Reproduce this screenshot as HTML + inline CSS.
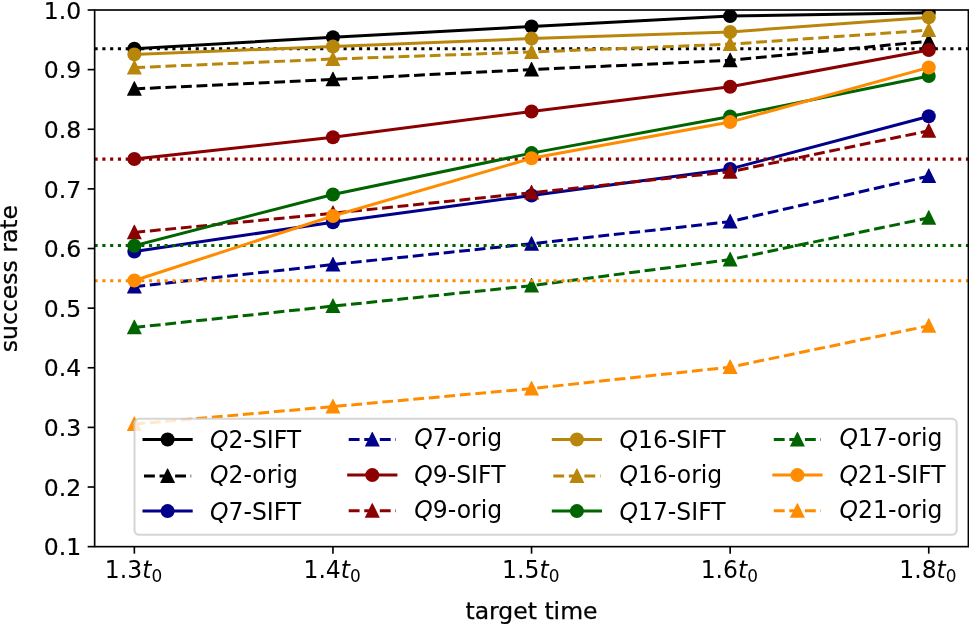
<!DOCTYPE html>
<html lang="en"><head><meta charset="utf-8"><title>success rate vs target time</title>
<style>
html,body{margin:0;padding:0;background:#fff;}
body{width:969px;height:624px;overflow:hidden;}
svg{display:block;}
text{font-family:"DejaVu Sans", "Liberation Sans", sans-serif;font-size:23.5px;fill:#000;}
.it{font-style:italic;}
.sub{font-size:16.92px;}
</style></head><body>
<svg width="969" height="624" viewBox="0 0 969 624">
<defs><clipPath id="ax"><rect x="94.65" y="10.0" width="873.75" height="536.65"/></clipPath></defs>
<rect width="969" height="624" fill="#fff"/>

<g clip-path="url(#ax)" fill="none">
<polyline points="134.35,48.76 332.95,37.25 531.55,26.46 730.15,16.08 928.75,12.74" stroke="#000000" stroke-width="3.0" stroke-linecap="square" stroke-linejoin="round"/>
<circle cx="134.35" cy="48.76" r="7.0" fill="#000000"/>
<circle cx="332.95" cy="37.25" r="7.0" fill="#000000"/>
<circle cx="531.55" cy="26.46" r="7.0" fill="#000000"/>
<circle cx="730.15" cy="16.08" r="7.0" fill="#000000"/>
<circle cx="928.75" cy="12.74" r="7.0" fill="#000000"/>
<polyline points="134.35,88.89 332.95,79.35 531.55,69.63 730.15,60.27 928.75,41.19" stroke="#000000" stroke-width="3.0" stroke-dasharray="10.861 4.697" stroke-linejoin="round"/>
<polygon points="134.00,81.29 134.70,81.29 141.85,95.79 126.85,95.79" fill="#000000"/>
<polygon points="332.60,71.75 333.30,71.75 340.45,86.25 325.45,86.25" fill="#000000"/>
<polygon points="531.20,62.03 531.90,62.03 539.05,76.53 524.05,76.53" fill="#000000"/>
<polygon points="729.80,52.67 730.50,52.67 737.65,67.17 722.65,67.17" fill="#000000"/>
<polygon points="928.40,33.59 929.10,33.59 936.25,48.09 921.25,48.09" fill="#000000"/>
<line x1="94.65" y1="48.76" x2="968.4" y2="48.76" stroke="#000000" stroke-width="3.15" stroke-dasharray="3.136 4.644" stroke-dashoffset="0.1"/>
<polyline points="134.35,251.49 332.95,222.27 531.55,195.44 730.15,168.91 928.75,116.32" stroke="#00008B" stroke-width="3.0" stroke-linecap="square" stroke-linejoin="round"/>
<circle cx="134.35" cy="251.49" r="7.0" fill="#00008B"/>
<circle cx="332.95" cy="222.27" r="7.0" fill="#00008B"/>
<circle cx="531.55" cy="195.44" r="7.0" fill="#00008B"/>
<circle cx="730.15" cy="168.91" r="7.0" fill="#00008B"/>
<circle cx="928.75" cy="116.32" r="7.0" fill="#00008B"/>
<polyline points="134.35,286.67 332.95,264.49 531.55,243.74 730.15,221.62 928.75,176.18" stroke="#00008B" stroke-width="3.0" stroke-dasharray="10.861 4.697" stroke-linejoin="round"/>
<polygon points="134.00,279.07 134.70,279.07 141.85,293.57 126.85,293.57" fill="#00008B"/>
<polygon points="332.60,256.89 333.30,256.89 340.45,271.39 325.45,271.39" fill="#00008B"/>
<polygon points="531.20,236.14 531.90,236.14 539.05,250.64 524.05,250.64" fill="#00008B"/>
<polygon points="729.80,214.02 730.50,214.02 737.65,228.52 722.65,228.52" fill="#00008B"/>
<polygon points="928.40,168.58 929.10,168.58 936.25,183.08 921.25,183.08" fill="#00008B"/>
<polyline points="134.35,159.07 332.95,137.25 531.55,111.55 730.15,86.74 928.75,50.07" stroke="#8B0000" stroke-width="3.0" stroke-linecap="square" stroke-linejoin="round"/>
<circle cx="134.35" cy="159.07" r="7.0" fill="#8B0000"/>
<circle cx="332.95" cy="137.25" r="7.0" fill="#8B0000"/>
<circle cx="531.55" cy="111.55" r="7.0" fill="#8B0000"/>
<circle cx="730.15" cy="86.74" r="7.0" fill="#8B0000"/>
<circle cx="928.75" cy="50.07" r="7.0" fill="#8B0000"/>
<polyline points="134.35,232.41 332.95,213.21 531.55,192.70 730.15,171.77 928.75,130.81" stroke="#8B0000" stroke-width="3.0" stroke-dasharray="10.861 4.697" stroke-linejoin="round"/>
<polygon points="134.00,224.81 134.70,224.81 141.85,239.31 126.85,239.31" fill="#8B0000"/>
<polygon points="332.60,205.61 333.30,205.61 340.45,220.11 325.45,220.11" fill="#8B0000"/>
<polygon points="531.20,185.10 531.90,185.10 539.05,199.60 524.05,199.60" fill="#8B0000"/>
<polygon points="729.80,164.17 730.50,164.17 737.65,178.67 722.65,178.67" fill="#8B0000"/>
<polygon points="928.40,123.21 929.10,123.21 936.25,137.71 921.25,137.71" fill="#8B0000"/>
<line x1="94.65" y1="159.07" x2="968.4" y2="159.07" stroke="#8B0000" stroke-width="3.15" stroke-dasharray="3.136 4.644" stroke-dashoffset="0.1"/>
<polyline points="134.35,54.42 332.95,46.55 531.55,38.62 730.15,31.94 928.75,17.33" stroke="#B8860B" stroke-width="3.0" stroke-linecap="square" stroke-linejoin="round"/>
<circle cx="134.35" cy="54.42" r="7.0" fill="#B8860B"/>
<circle cx="332.95" cy="46.55" r="7.0" fill="#B8860B"/>
<circle cx="531.55" cy="38.62" r="7.0" fill="#B8860B"/>
<circle cx="730.15" cy="31.94" r="7.0" fill="#B8860B"/>
<circle cx="928.75" cy="17.33" r="7.0" fill="#B8860B"/>
<polyline points="134.35,67.60 332.95,59.07 531.55,52.04 730.15,44.17 928.75,30.15" stroke="#B8860B" stroke-width="3.0" stroke-dasharray="10.861 4.697" stroke-linejoin="round"/>
<polygon points="134.00,60.00 134.70,60.00 141.85,74.50 126.85,74.50" fill="#B8860B"/>
<polygon points="332.60,51.47 333.30,51.47 340.45,65.97 325.45,65.97" fill="#B8860B"/>
<polygon points="531.20,44.44 531.90,44.44 539.05,58.94 524.05,58.94" fill="#B8860B"/>
<polygon points="729.80,36.57 730.50,36.57 737.65,51.07 722.65,51.07" fill="#B8860B"/>
<polygon points="928.40,22.55 929.10,22.55 936.25,37.05 921.25,37.05" fill="#B8860B"/>
<polyline points="134.35,245.71 332.95,194.43 531.55,153.11 730.15,116.44 928.75,76.07" stroke="#006400" stroke-width="3.0" stroke-linecap="square" stroke-linejoin="round"/>
<circle cx="134.35" cy="245.71" r="7.0" fill="#006400"/>
<circle cx="332.95" cy="194.43" r="7.0" fill="#006400"/>
<circle cx="531.55" cy="153.11" r="7.0" fill="#006400"/>
<circle cx="730.15" cy="116.44" r="7.0" fill="#006400"/>
<circle cx="928.75" cy="76.07" r="7.0" fill="#006400"/>
<polyline points="134.35,327.46 332.95,306.11 531.55,285.66 730.15,259.60 928.75,217.80" stroke="#006400" stroke-width="3.0" stroke-dasharray="10.861 4.697" stroke-linejoin="round"/>
<polygon points="134.00,319.86 134.70,319.86 141.85,334.36 126.85,334.36" fill="#006400"/>
<polygon points="332.60,298.51 333.30,298.51 340.45,313.01 325.45,313.01" fill="#006400"/>
<polygon points="531.20,278.06 531.90,278.06 539.05,292.56 524.05,292.56" fill="#006400"/>
<polygon points="729.80,252.00 730.50,252.00 737.65,266.50 722.65,266.50" fill="#006400"/>
<polygon points="928.40,210.20 929.10,210.20 936.25,224.70 921.25,224.70" fill="#006400"/>
<line x1="94.65" y1="245.53" x2="968.4" y2="245.53" stroke="#006400" stroke-width="3.15" stroke-dasharray="3.136 4.644" stroke-dashoffset="0.1"/>
<polyline points="134.35,280.53 332.95,216.01 531.55,158.23 730.15,122.10 928.75,67.54" stroke="#FF8C00" stroke-width="3.0" stroke-linecap="square" stroke-linejoin="round"/>
<circle cx="134.35" cy="280.53" r="7.0" fill="#FF8C00"/>
<circle cx="332.95" cy="216.01" r="7.0" fill="#FF8C00"/>
<circle cx="531.55" cy="158.23" r="7.0" fill="#FF8C00"/>
<circle cx="730.15" cy="122.10" r="7.0" fill="#FF8C00"/>
<circle cx="928.75" cy="67.54" r="7.0" fill="#FF8C00"/>
<polyline points="134.35,424.06 332.95,406.58 531.55,388.58 730.15,367.11 928.75,325.79" stroke="#FF8C00" stroke-width="3.0" stroke-dasharray="10.861 4.697" stroke-linejoin="round"/>
<polygon points="134.00,416.46 134.70,416.46 141.85,430.96 126.85,430.96" fill="#FF8C00"/>
<polygon points="332.60,398.98 333.30,398.98 340.45,413.48 325.45,413.48" fill="#FF8C00"/>
<polygon points="531.20,380.98 531.90,380.98 539.05,395.48 524.05,395.48" fill="#FF8C00"/>
<polygon points="729.80,359.51 730.50,359.51 737.65,374.01 722.65,374.01" fill="#FF8C00"/>
<polygon points="928.40,318.19 929.10,318.19 936.25,332.69 921.25,332.69" fill="#FF8C00"/>
<line x1="94.65" y1="280.71" x2="968.4" y2="280.71" stroke="#FF8C00" stroke-width="3.15" stroke-dasharray="3.136 4.644" stroke-dashoffset="0.1"/>
</g>
<rect x="94.65" y="10.0" width="873.75" height="536.65" fill="none" stroke="#000" stroke-width="1.65" stroke-linejoin="miter"/>
<line x1="134.35" y1="546.65" x2="134.35" y2="553.65" stroke="#000" stroke-width="1.65"/>
<text transform="translate(104.85,578.2) scale(1,1.02)">1.3<tspan class="it">t</tspan><tspan class="sub" dy="3.5">0</tspan></text>
<line x1="332.95" y1="546.65" x2="332.95" y2="553.65" stroke="#000" stroke-width="1.65"/>
<text transform="translate(303.45,578.2) scale(1,1.02)">1.4<tspan class="it">t</tspan><tspan class="sub" dy="3.5">0</tspan></text>
<line x1="531.55" y1="546.65" x2="531.55" y2="553.65" stroke="#000" stroke-width="1.65"/>
<text transform="translate(502.05,578.2) scale(1,1.02)">1.5<tspan class="it">t</tspan><tspan class="sub" dy="3.5">0</tspan></text>
<line x1="730.15" y1="546.65" x2="730.15" y2="553.65" stroke="#000" stroke-width="1.65"/>
<text transform="translate(700.65,578.2) scale(1,1.02)">1.6<tspan class="it">t</tspan><tspan class="sub" dy="3.5">0</tspan></text>
<line x1="928.75" y1="546.65" x2="928.75" y2="553.65" stroke="#000" stroke-width="1.65"/>
<text transform="translate(899.25,578.2) scale(1,1.02)">1.8<tspan class="it">t</tspan><tspan class="sub" dy="3.5">0</tspan></text>
<line x1="87.65" y1="546.65" x2="94.65" y2="546.65" stroke="#000" stroke-width="1.65"/>
<text x="81.1" y="555.30" text-anchor="end" stroke="#000" stroke-width="0.2">0.1</text>
<line x1="87.65" y1="487.02" x2="94.65" y2="487.02" stroke="#000" stroke-width="1.65"/>
<text x="81.1" y="495.67" text-anchor="end" stroke="#000" stroke-width="0.2">0.2</text>
<line x1="87.65" y1="427.39" x2="94.65" y2="427.39" stroke="#000" stroke-width="1.65"/>
<text x="81.1" y="436.04" text-anchor="end" stroke="#000" stroke-width="0.2">0.3</text>
<line x1="87.65" y1="367.77" x2="94.65" y2="367.77" stroke="#000" stroke-width="1.65"/>
<text x="81.1" y="376.42" text-anchor="end" stroke="#000" stroke-width="0.2">0.4</text>
<line x1="87.65" y1="308.14" x2="94.65" y2="308.14" stroke="#000" stroke-width="1.65"/>
<text x="81.1" y="316.79" text-anchor="end" stroke="#000" stroke-width="0.2">0.5</text>
<line x1="87.65" y1="248.51" x2="94.65" y2="248.51" stroke="#000" stroke-width="1.65"/>
<text x="81.1" y="257.16" text-anchor="end" stroke="#000" stroke-width="0.2">0.6</text>
<line x1="87.65" y1="188.88" x2="94.65" y2="188.88" stroke="#000" stroke-width="1.65"/>
<text x="81.1" y="197.53" text-anchor="end" stroke="#000" stroke-width="0.2">0.7</text>
<line x1="87.65" y1="129.26" x2="94.65" y2="129.26" stroke="#000" stroke-width="1.65"/>
<text x="81.1" y="137.91" text-anchor="end" stroke="#000" stroke-width="0.2">0.8</text>
<line x1="87.65" y1="69.63" x2="94.65" y2="69.63" stroke="#000" stroke-width="1.65"/>
<text x="81.1" y="78.28" text-anchor="end" stroke="#000" stroke-width="0.2">0.9</text>
<line x1="87.65" y1="10.00" x2="94.65" y2="10.00" stroke="#000" stroke-width="1.65"/>
<text x="81.1" y="18.65" text-anchor="end" stroke="#000" stroke-width="0.2">1.0</text>
<text x="531.5" y="619.3" text-anchor="middle" stroke="#000" stroke-width="0.25">target time</text>
<text transform="translate(16.9,278.6) rotate(-90)" text-anchor="middle" stroke="#000" stroke-width="0.3">success rate</text>
<rect x="134.5" y="418.75" width="822.20" height="116.05" rx="4.7" ry="4.7" fill="#fff" fill-opacity="0.8" stroke="#ccc" stroke-opacity="0.8" stroke-width="2.05"/>
<line x1="144.00" y1="439.5" x2="191.20" y2="439.5" stroke="#000000" stroke-width="3.0" stroke-linecap="square"/>
<circle cx="167.60" cy="439.50" r="7.0" fill="#000000"/>
<text transform="translate(210.0,447.9) scale(1,1.02)"><tspan class="it">Q</tspan>2-SIFT</text>
<line x1="144.00" y1="476.0" x2="191.20" y2="476.0" stroke="#000000" stroke-width="3.0" stroke-dasharray="10.861 4.697"/>
<polygon points="167.25,468.40 167.95,468.40 175.10,482.90 160.10,482.90" fill="#000000"/>
<text transform="translate(210.0,482.9) scale(1,1.02)"><tspan class="it">Q</tspan>2-orig</text>
<line x1="144.00" y1="511.1" x2="191.20" y2="511.1" stroke="#00008B" stroke-width="3.0" stroke-linecap="square"/>
<circle cx="167.60" cy="511.10" r="7.0" fill="#00008B"/>
<text transform="translate(210.0,519.5) scale(1,1.02)"><tspan class="it">Q</tspan>7-SIFT</text>
<line x1="348.70" y1="439.6" x2="395.90" y2="439.6" stroke="#00008B" stroke-width="3.0" stroke-dasharray="10.861 4.697"/>
<polygon points="371.95,432.00 372.65,432.00 379.80,446.50 364.80,446.50" fill="#00008B"/>
<text transform="translate(414.3,446.05) scale(1,1.02)"><tspan class="it">Q</tspan>7-orig</text>
<line x1="348.70" y1="475.1" x2="395.90" y2="475.1" stroke="#8B0000" stroke-width="3.0" stroke-linecap="square"/>
<circle cx="372.30" cy="475.10" r="7.0" fill="#8B0000"/>
<text transform="translate(414.3,483.0) scale(1,1.02)"><tspan class="it">Q</tspan>9-SIFT</text>
<line x1="348.70" y1="510.8" x2="395.90" y2="510.8" stroke="#8B0000" stroke-width="3.0" stroke-dasharray="10.861 4.697"/>
<polygon points="371.95,503.20 372.65,503.20 379.80,517.70 364.80,517.70" fill="#8B0000"/>
<text transform="translate(414.3,517.7) scale(1,1.02)"><tspan class="it">Q</tspan>9-orig</text>
<line x1="553.30" y1="439.5" x2="600.50" y2="439.5" stroke="#B8860B" stroke-width="3.0" stroke-linecap="square"/>
<circle cx="576.90" cy="439.50" r="7.0" fill="#B8860B"/>
<text transform="translate(619.5,447.9) scale(1,1.02)"><tspan class="it">Q</tspan>16-SIFT</text>
<line x1="553.30" y1="476.0" x2="600.50" y2="476.0" stroke="#B8860B" stroke-width="3.0" stroke-dasharray="10.861 4.697"/>
<polygon points="576.55,468.40 577.25,468.40 584.40,482.90 569.40,482.90" fill="#B8860B"/>
<text transform="translate(619.5,482.9) scale(1,1.02)"><tspan class="it">Q</tspan>16-orig</text>
<line x1="553.30" y1="511.1" x2="600.50" y2="511.1" stroke="#006400" stroke-width="3.0" stroke-linecap="square"/>
<circle cx="576.90" cy="511.10" r="7.0" fill="#006400"/>
<text transform="translate(619.5,519.5) scale(1,1.02)"><tspan class="it">Q</tspan>17-SIFT</text>
<line x1="773.80" y1="439.6" x2="821.00" y2="439.6" stroke="#006400" stroke-width="3.0" stroke-dasharray="10.861 4.697"/>
<polygon points="797.05,432.00 797.75,432.00 804.90,446.50 789.90,446.50" fill="#006400"/>
<text transform="translate(839.6,446.05) scale(1,1.02)"><tspan class="it">Q</tspan>17-orig</text>
<line x1="773.80" y1="475.1" x2="821.00" y2="475.1" stroke="#FF8C00" stroke-width="3.0" stroke-linecap="square"/>
<circle cx="797.40" cy="475.10" r="7.0" fill="#FF8C00"/>
<text transform="translate(839.6,483.0) scale(1,1.02)"><tspan class="it">Q</tspan>21-SIFT</text>
<line x1="773.80" y1="510.8" x2="821.00" y2="510.8" stroke="#FF8C00" stroke-width="3.0" stroke-dasharray="10.861 4.697"/>
<polygon points="797.05,503.20 797.75,503.20 804.90,517.70 789.90,517.70" fill="#FF8C00"/>
<text transform="translate(839.6,517.7) scale(1,1.02)"><tspan class="it">Q</tspan>21-orig</text>
</svg></body></html>
